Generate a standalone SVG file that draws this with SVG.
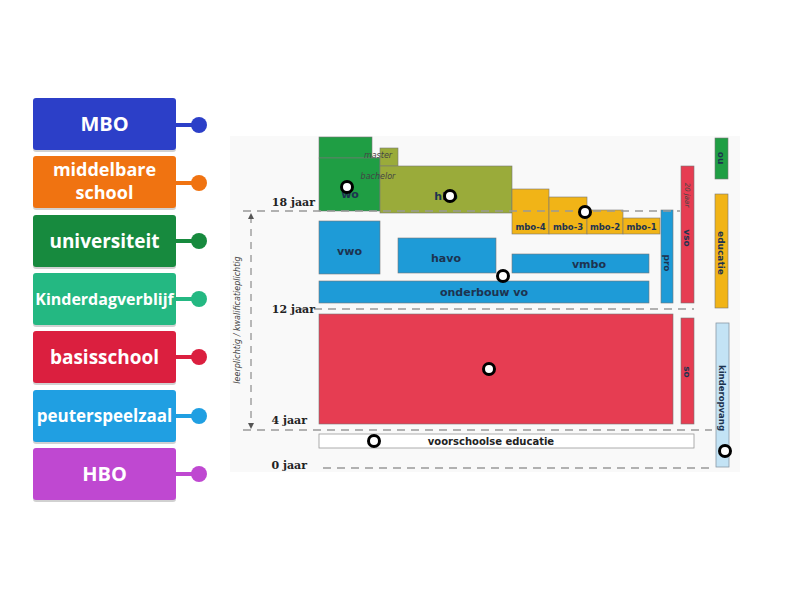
<svg xmlns="http://www.w3.org/2000/svg" width="800" height="600" viewBox="0 0 800 600">
<defs>
<style>
.lbl{font-family:"Open Sans","Noto Sans","Liberation Sans",sans-serif;font-weight:700;fill:#fff;text-anchor:middle}
.ck{font-family:"DejaVu Sans","Liberation Sans",sans-serif;font-weight:700;fill:#1d3350;text-anchor:middle}
.age{font-family:"DejaVu Serif","Liberation Serif",serif;font-weight:700;font-size:11px;fill:#222;text-anchor:end}
.it{font-family:"DejaVu Sans","Liberation Sans",sans-serif;font-style:italic;fill:#444;text-anchor:middle}
.dash{stroke:#999;stroke-width:1.3;stroke-dasharray:8,6;fill:none}
.pin{fill:#fff;stroke:#000;stroke-width:3}
.blk{stroke:#777;stroke-width:0.6}
.shadow{fill:#000;opacity:0.18}
</style>
<marker id="ah" viewBox="0 0 6 6" refX="3" refY="3" markerWidth="6" markerHeight="6" orient="auto-start-reverse"><path d="M0,0 L6,3 L0,6 z" fill="#555"/></marker>
</defs>
<rect width="800" height="600" fill="#fff"/>

<!-- chart -->
<g id="chart">
<rect x="230" y="136" width="510" height="336" fill="#f9f9f9"/>
<!-- wo / hbo -->
<rect class="blk" x="319" y="137" width="53" height="21" fill="#1f9e44"/>
<rect class="blk" x="319" y="158" width="61" height="53" fill="#1f9e44"/>
<rect class="blk" x="380" y="148" width="18" height="18" fill="#9aab3a"/>
<rect class="blk" x="380" y="166" width="132" height="47" fill="#9aab3a"/>
<text class="it" x="378" y="158" font-size="8">master</text>
<text class="it" x="378" y="179" font-size="8">bachelor</text>
<text class="ck" x="350" y="198" font-size="11">wo</text>
<text class="ck" x="446" y="200" font-size="11">hbo</text>
<!-- mbo -->
<rect class="blk" x="512" y="189" width="37" height="45" fill="#f1b417"/>
<rect class="blk" x="549" y="197" width="38" height="37" fill="#f1b417"/>
<rect class="blk" x="587" y="210" width="36" height="24" fill="#f1b417"/>
<rect class="blk" x="623" y="218" width="37" height="16" fill="#f1b417"/>
<text class="ck" x="530.5" y="230" font-size="8.5">mbo-4</text>
<text class="ck" x="568" y="230" font-size="8.5">mbo-3</text>
<text class="ck" x="605" y="230" font-size="8.5">mbo-2</text>
<text class="ck" x="641.5" y="230" font-size="8.5">mbo-1</text>
<!-- vo -->
<rect class="blk" x="319" y="221" width="61" height="53" fill="#1e9bd7"/>
<rect class="blk" x="398" y="238" width="98" height="35" fill="#1e9bd7"/>
<rect class="blk" x="512" y="254" width="137" height="19" fill="#1e9bd7"/>
<rect class="blk" x="319" y="281" width="330" height="22" fill="#1e9bd7"/>
<rect class="blk" x="661" y="210" width="12" height="93" fill="#1e9bd7"/>
<text class="ck" x="349.5" y="255" font-size="11">vwo</text>
<text class="ck" x="446" y="262" font-size="11">havo</text>
<text class="ck" x="589" y="268" font-size="11">vmbo</text>
<text class="ck" x="484" y="296" font-size="11">onderbouw vo</text>
<text class="ck" font-size="9" transform="translate(664,263) rotate(90)">pro</text>
<!-- vso / so -->
<rect class="blk" x="681" y="166" width="13" height="137" fill="#e63d52"/>
<rect class="blk" x="681" y="318" width="13" height="106" fill="#e63d52"/>
<text class="it" font-size="7" transform="translate(685,195) rotate(90)">20 jaar</text>
<text class="ck" font-size="9" transform="translate(684,238) rotate(90)">vso</text>
<text class="ck" font-size="9" transform="translate(684,372) rotate(90)">so</text>
<!-- po -->
<rect class="blk" x="319" y="314" width="354" height="110" fill="#e63d52"/>
<!-- right column -->
<rect class="blk" x="715" y="138" width="13" height="41" fill="#1f9e44"/>
<rect class="blk" x="715" y="194" width="13" height="114" fill="#f1b417"/>
<rect x="716" y="323" width="13" height="144" fill="#c3e3f5" stroke="#8a9aa6" stroke-width="0.8"/>
<text class="ck" font-size="9" transform="translate(718,158) rotate(90)">ou</text>
<text class="ck" font-size="9" transform="translate(718,253) rotate(90)">educatie</text>
<text class="ck" font-size="8.5" transform="translate(719,398) rotate(90)">kinderopvang</text>
<!-- voorschoolse -->
<rect x="319" y="434" width="375" height="14" fill="#fff" stroke="#999" stroke-width="0.8"/>
<text class="ck" x="491" y="445" font-size="10" style="fill:#222">voorschoolse educatie</text>
<!-- age lines -->
<path class="dash" d="M243,211 H680"/>
<path class="dash" d="M300,309 H694"/>
<path class="dash" d="M243,430 H712"/>
<path class="dash" d="M323,468 H712"/>
<text class="age" x="315" y="206">18 jaar</text>
<text class="age" x="315" y="313">12 jaar</text>
<text class="age" x="307" y="424">4 jaar</text>
<text class="age" x="307" y="469">0 jaar</text>
<line x1="251" y1="216" x2="251" y2="426" stroke="#777" stroke-width="1" stroke-dasharray="7,6" marker-start="url(#ah)" marker-end="url(#ah)"/>
<text class="it" font-size="8" transform="translate(240,320) rotate(-90)">leerplichtig / kwalificatieplichtig</text>
<!-- pins -->
<circle class="pin" cx="347" cy="187" r="5.5"/>
<circle class="pin" cx="450" cy="196" r="5.5"/>
<circle class="pin" cx="585" cy="212" r="5.5"/>
<circle class="pin" cx="503" cy="276" r="5.5"/>
<circle class="pin" cx="489" cy="369" r="5.5"/>
<circle class="pin" cx="374" cy="441" r="5.5"/>
<circle class="pin" cx="725" cy="451" r="5.5"/>
</g>

<!-- connectors -->
<g id="connectors" stroke-width="4">
<line x1="175" y1="125" x2="199" y2="125" stroke="#2c3fc8"/>
<line x1="175" y1="183" x2="199" y2="183" stroke="#f07311"/>
<line x1="175" y1="241" x2="199" y2="241" stroke="#178a3e"/>
<line x1="175" y1="299" x2="199" y2="299" stroke="#24b882"/>
<line x1="175" y1="357" x2="199" y2="357" stroke="#db1f3f"/>
<line x1="175" y1="416" x2="199" y2="416" stroke="#209fe2"/>
<line x1="175" y1="474" x2="199" y2="474" stroke="#bf48d1"/>
<circle cx="199" cy="125" r="8" fill="#2c3fc8" stroke="none"/>
<circle cx="199" cy="183" r="8" fill="#f07311" stroke="none"/>
<circle cx="199" cy="241" r="8" fill="#178a3e" stroke="none"/>
<circle cx="199" cy="299" r="8" fill="#24b882" stroke="none"/>
<circle cx="199" cy="357" r="8" fill="#db1f3f" stroke="none"/>
<circle cx="199" cy="416" r="8" fill="#209fe2" stroke="none"/>
<circle cx="199" cy="474" r="8" fill="#bf48d1" stroke="none"/>
</g>

<g id="mbo">
<rect class="shadow" x="33" y="100" width="143" height="52" rx="3"/>
<rect x="33" y="98" width="143" height="52" rx="3" fill="#2c3fc8"/>
<text class="lbl" x="104.5" y="131" font-size="20">MBO</text>
</g>
<g id="middelbare-school">
<rect class="shadow" x="33" y="158" width="143" height="52" rx="3"/>
<rect x="33" y="156" width="143" height="52" rx="3" fill="#f07311"/>
<text class="lbl" x="104.5" font-size="18"><tspan x="104.5" y="176">middelbare</tspan><tspan x="104.5" y="199">school</tspan></text>
</g>
<g id="universiteit">
<rect class="shadow" x="33" y="217" width="143" height="52" rx="3"/>
<rect x="33" y="215" width="143" height="52" rx="3" fill="#178a3e"/>
<text class="lbl" x="104.5" y="247.5" font-size="19">universiteit</text>
</g>
<g id="kinderdagverblijf">
<rect class="shadow" x="33" y="275" width="143" height="52" rx="3"/>
<rect x="33" y="273" width="143" height="52" rx="3" fill="#24b882"/>
<text class="lbl" x="104.5" y="305" font-size="16">Kinderdagverblijf</text>
</g>
<g id="basisschool">
<rect class="shadow" x="33" y="333" width="143" height="52" rx="3"/>
<rect x="33" y="331" width="143" height="52" rx="3" fill="#db1f3f"/>
<text class="lbl" x="104.5" y="363.5" font-size="19">basisschool</text>
</g>
<g id="peuterspeelzaal">
<rect class="shadow" x="33" y="392" width="143" height="52" rx="3"/>
<rect x="33" y="390" width="143" height="52" rx="3" fill="#209fe2"/>
<text class="lbl" x="104.5" y="422" font-size="17">peuterspeelzaal</text>
</g>
<g id="hbo">
<rect class="shadow" x="33" y="450" width="143" height="52" rx="3"/>
<rect x="33" y="448" width="143" height="52" rx="3" fill="#bf48d1"/>
<text class="lbl" x="104.5" y="481" font-size="20">HBO</text>
</g>
</svg>
